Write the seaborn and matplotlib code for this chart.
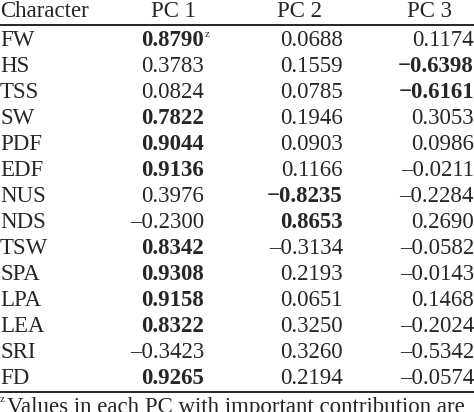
import seaborn as sns
import matplotlib.pyplot as plt

characters = ['FW', 'HS', 'TSS', 'SW', 'PDF', 'EDF', 'NUS', 'NDS', 'TSW', 'SPA', 'LPA', 'LEA', 'SRI', 'FD']
pc1 = [0.8790, 0.3783, 0.0824, 0.7822, 0.9044, 0.9136, 0.3976, -0.2300, 0.8342, 0.9308, 0.9158, 0.8322, -0.3423, 0.9265]
pc2 = [0.0688, 0.1559, 0.0785, 0.1946, 0.0903, 0.1166, -0.8235, 0.8653, -0.3134, 0.2193, 0.0651, 0.3250, 0.3260, 0.2194]
pc3 = [0.1174, -0.6398, -0.6161, 0.3053, 0.0986, -0.0211, -0.2284, 0.2690, -0.0582, -0.0143, 0.1468, -0.2024, -0.5342, -0.0574]
headers = ['Character', 'PC 1', 'PC 2', 'PC 3']
footnote = 'Values in each PC with important contribution are'

sns.set_style("white")
plt.rcParams['font.family'] = ['Liberation Serif', 'DejaVu Serif']

fig = plt.figure(figsize=(4.74, 4.12), dpi=100)
ax = fig.add_axes([0, 0, 1, 1])
ax.set_xlim(0, 474)
ax.set_ylim(412, 0)
ax.axis('off')

fs = 16.5
# header
ax.text(0, 11, headers[0], fontsize=fs, va='center', ha='left')
for x, h in zip([173, 300, 430], headers[1:]):
    ax.text(x, 11, h, fontsize=fs, va='center', ha='center')
ax.plot([0, 474], [24.5, 24.5], color='black', lw=1.2)
ax.plot([0, 474], [391.5, 391.5], color='black', lw=1.2)


def fmt(v, bold):
    s = f'{abs(v):.4f}'
    if v < 0:
        s = ('\u2212' if bold else '\u2013') + s
    return s


for i, c in enumerate(characters):
    y = 40 + i * 26
    ax.text(0, y, c, fontsize=fs, va='center', ha='left')
    for xr, vals in zip([204, 343, 474], [pc1, pc2, pc3]):
        v = vals[i]
        bold = abs(v) >= 0.6
        ax.text(xr, y, fmt(v, bold), fontsize=fs, va='center', ha='right',
                fontweight='bold' if bold else 'normal')
ax.text(205, 34, 'z', fontsize=8, va='center', ha='left')

ax.text(0, 400, 'z', fontsize=8, va='center', ha='left')
ax.text(7, 407, footnote, fontsize=fs, va='center', ha='left')

fig.savefig('out.png', dpi=100)
